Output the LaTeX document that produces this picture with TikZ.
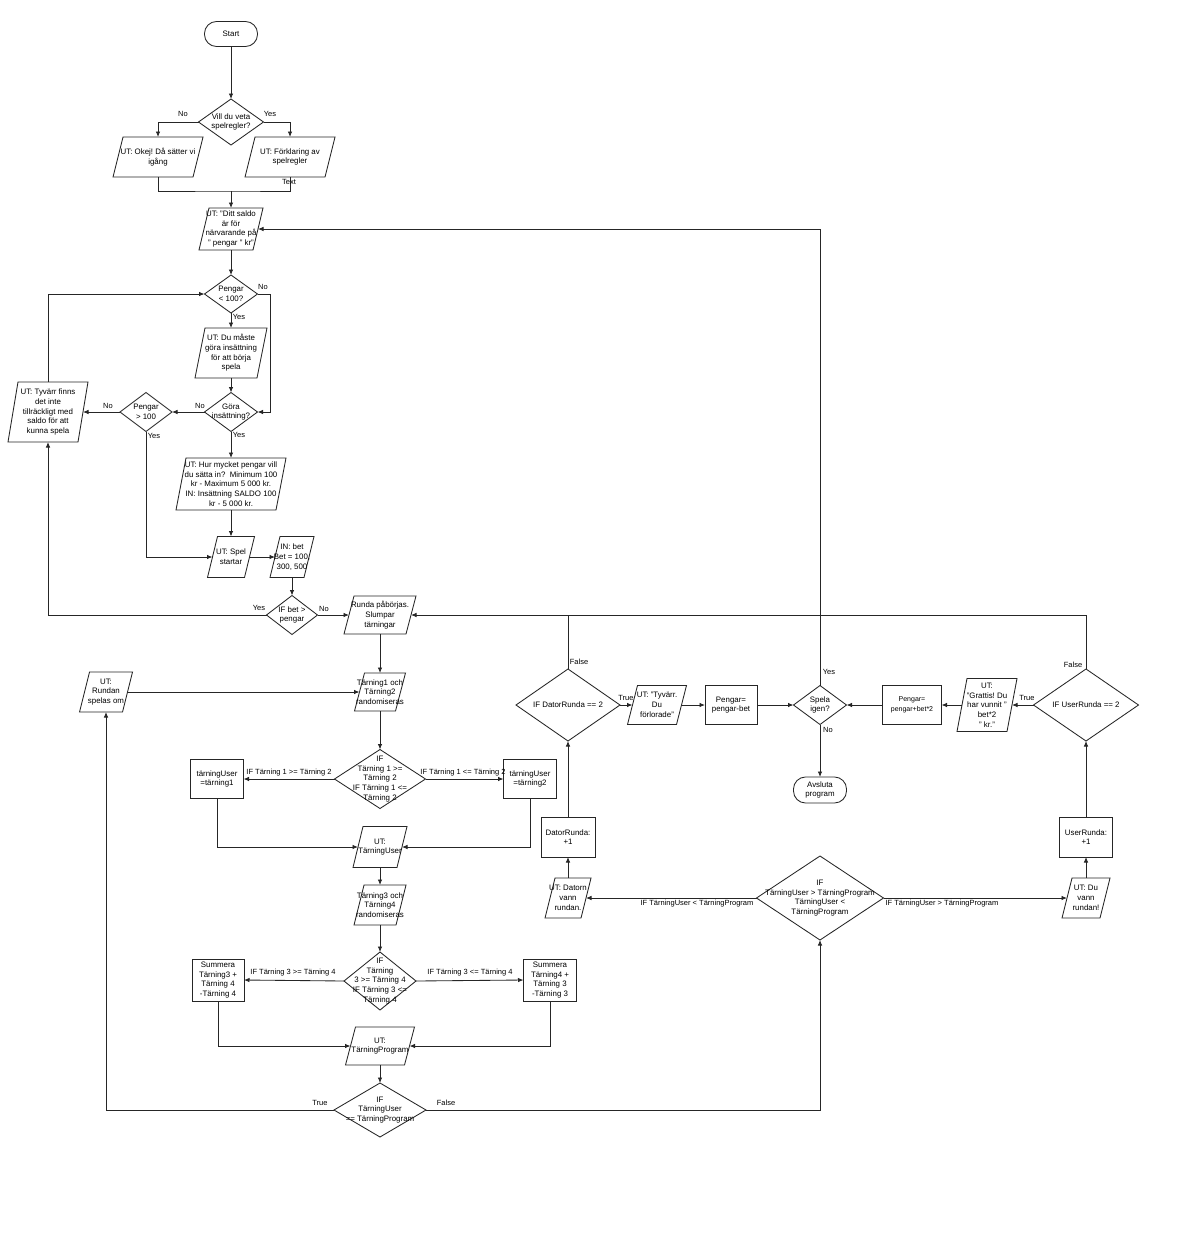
\documentclass[tikz,border=0pt]{standalone}
\usepackage{fontspec}
\setmainfont{Liberation Sans}
\usetikzlibrary{arrows.meta}
\frenchspacing
\newcommand{\fs}{\fontsize{7.9}{9.7}\selectfont}
\newcommand{\fsl}{\fontsize{7.5}{9}\selectfont}
\newcommand{\fss}{\fontsize{7}{8.8}\selectfont}
\tikzset{
 ln/.style={draw=black!85, line width=0.85pt},
 arr/.style={ln, -{Latex[length=5.5pt,width=4.5pt]}},
 anc/.style={shape=rectangle, inner sep=0pt, outer sep=0pt, draw=none},
 txt/.style={font=\fs, align=center, inner sep=0pt},
 lbl/.style={font=\fsl, inner sep=0pt},
}
\newcommand{\mkpara}[6]{%
 \node[anc, minimum width=#4-10, minimum height=#5] (#1) at (#2,#3) {};
 \draw[ln] ([xshift=-5pt]#1.south west) -- ([xshift=5pt]#1.north west) -- ([xshift=5pt]#1.north east) -- ([xshift=-5pt]#1.south east) -- cycle;
 \node[txt] (#1t) at (#1) {#6};}
\newcommand{\mkdia}[6]{%
 \node[anc, minimum width=#4, minimum height=#5] (#1) at (#2,#3) {};
 \draw[ln] (#1.north) -- (#1.east) -- (#1.south) -- (#1.west) -- cycle;
 \node[txt] (#1t) at (#1) {#6};}
\newcommand{\mkbox}[6]{%
 \node[anc, ln, minimum width=#4, minimum height=#5] (#1) at (#2,#3) {};
 \node[txt] (#1t) at (#1) {#6};}
\newcommand{\mkterm}[6]{%
 \node[anc, ln, rounded corners=12pt, minimum width=#4, minimum height=#5] (#1) at (#2,#3) {};
 \node[txt] (#1t) at (#1) {#6};}
\begin{document}
\begin{tikzpicture}[x=1pt,y=-1pt]
\fill[white] (0,0) rectangle (1200,1254);
\useasboundingbox (0,0) rectangle (1200,1254);

% ---- nodes ----
\mkterm{start}{231}{34}{53}{25}{Start}
\mkdia{q1}{231}{122}{65}{46}{Vill du veta\\spelregler?}
\mkpara{okej}{158}{157}{90}{40}{UT: Okej! Då sätter vi\\igång}
\mkpara{fork}{290}{157}{90}{40}{UT: Förklaring av\\spelregler}
\mkpara{saldo}{231}{229}{64}{42}{UT: "Ditt saldo\\är för\\närvarande på\\" pengar " kr"}
\mkdia{q2}{231}{294}{53}{38}{Pengar\\< 100?}
\mkpara{maste}{231}{353}{72}{50}{UT:  Du måste\\göra insättning\\för att börja\\spela}
\mkdia{q3}{231}{412}{53}{39}{Göra\\insättning?}
\mkdia{q4}{146}{412}{52}{39}{Pengar\\> 100}
\mkpara{tyvarr}{48}{412}{80}{60}{UT: Tyvärr finns\\det inte\\tillräckligt med\\saldo för att\\kunna spela}
\mkpara{hur}{231}{484}{110}{52}{UT: Hur mycket pengar vill\\du sätta in?\ \ Minimum 100\\kr - Maximum 5 000 kr.\\IN: Insättning SALDO 100\\kr - 5 000 kr.}
\mkpara{spel}{231}{557}{47}{41}{UT: Spel\\startar}
\mkpara{bet}{292}{557}{44}{41}{IN: bet\\Bet = 100,\\300, 500}
\mkdia{q5}{292}{615}{51}{39}{IF bet >\\pengar}
\mkpara{runda}{380}{615}{72}{38}{Runda påbörjas.\\Slumpar\\tärningar}
\mkpara{t12}{380}{692}{51}{38}{Tärning1 och\\Tärning2\\randomiseras}
\mkpara{rundan}{106}{692}{53}{40}{UT:\\Rundan\\spelas om}
\mkdia{q6}{380}{779}{91}{59}{IF\\Tärning 1 >=\\Tärning 2\\IF Tärning 1 <=\\Tärning 2}
\mkbox{tu1}{217}{779}{53}{39}{tärningUser\\=tärning1}
\mkbox{tu2}{530}{779}{53}{39}{tärningUser\\=tärning2}
\mkpara{utu}{380}{847}{54}{41}{UT:\\TärningUser}
\mkpara{t34}{380}{905}{52}{40}{Tärning3 och\\Tärning4\\randomiseras}
\mkdia{q7}{380}{981}{72}{58}{IF\\Tärning\\3 >= Tärning 4\\IF Tärning 3 <=\\Tärning 4}
\mkbox{s1}{218}{980}{52}{42}{Summera\\Tärning3 +\\Tärning 4\\-Tärning 4}
\mkbox{s2}{550}{980}{53}{42}{Summera\\Tärning4 +\\Tärning 3\\-Tärning 3}
\mkpara{utp}{380}{1046}{69}{38}{UT:\\TärningProgram}
\mkdia{q8}{380}{1110}{92}{54}{IF\\TärningUser\\== TärningProgram}
\mkdia{q9}{820}{898}{127}{84}{IF\\TärningUser > TärningProgram\\TärningUser <\\TärningProgram}
\mkpara{datorvann}{568}{898}{46}{40}{UT: Datorn\\vann\\rundan.}
\mkpara{duvann}{1086}{898}{48}{40}{UT: Du\\vann\\rundan!}
\mkbox{dr}{568}{837}{54}{40}{DatorRunda:\\+1}
\mkbox{ur}{1086}{837}{53}{40}{UserRunda:\\+1}
\mkdia{q10}{568}{705}{104}{72}{IF DatorRunda == 2}
\mkpara{forl}{657}{705}{59}{39}{UT: "Tyvärr.\\Du\\förlorade"}
\mkbox{pb}{731}{705}{52}{39}{Pengar=\\pengar-bet}
\mkdia{spela}{820}{705}{53}{39}{Spela\\igen?}
\mkterm{avsluta}{820}{790}{53}{26}{Avsluta\\program}
\mkbox{pbw}{912}{705}{59}{39}{\fss Pengar=\\\fss pengar+bet*2}
\mkpara{grattis}{987}{705}{60}{53}{UT:\\"Grattis! Du\\har vunnit "\\bet*2\\" kr."}
\mkdia{q11}{1086}{705}{105}{72}{IF UserRunda == 2}

% ---- connectors ----
\coordinate (j1) at (231,191);
\draw[arr] (start.south) -- (q1.north);
\draw[arr] (q1.west) -| (okej.north);
\draw[arr] (q1.east) -| (fork.north);
\draw[ln] (okej.south) |- (j1) -| (fork.south);
\draw[arr] (j1) -- (saldo.north);
\draw[arr] (saldo.south) -- (q2.north);
\draw[arr] (q2.east) -- ++(13,0) |- (q3.east);
\draw[arr] (q2.south) -- (maste.north);
\draw[arr] (maste.south) -- (q3.north);
\draw[arr] (q3.west) -- (q4.east);
\draw[arr] (q4.west) -- (tyvarr.east);
\draw[arr] (tyvarr.north) |- (q2.west);
\draw[arr] (q4.south) |- (spel.west);
\draw[arr] (q3.south) -- (hur.north);
\draw[arr] (hur.south) -- (spel.north);
\draw[arr] (spel.east) -- (bet.west);
\draw[arr] (bet.south) -- (q5.north);
\draw[arr] (q5.west) -| (tyvarr.south);
\draw[arr] (q5.east) -- (runda.west);
\draw[arr] (runda.south) -- (t12.north);
\draw[arr] (rundan.east) -- (t12.west);
\draw[arr] (t12.south) -- (q6.north);
\draw[arr] (q6.west) -- (tu1.east);
\draw[arr] (q6.east) -- (tu2.west);
\draw[arr] (tu1.south) |- (utu.west);
\draw[arr] (tu2.south) |- (utu.east);
\draw[arr] (utu.south) -- (t34.north);
\draw[arr] (t34.south) -- (q7.north);
\draw[arr] (q7.west) -- (s1.east);
\draw[arr] (q7.east) -- (s2.west);
\draw[arr] (s1.south) |- (utp.west);
\draw[arr] (s2.south) |- (utp.east);
\draw[arr] (utp.south) -- (q8.north);
\draw[arr] (q8.west) -| (rundan.south);
\draw[arr] (q8.east) -| (q9.south);
\draw[arr] (q9.west) -- (datorvann.east);
\draw[arr] (q9.east) -- (duvann.west);
\draw[arr] (datorvann.north) -- (dr.south);
\draw[arr] (dr.north) -- (q10.south);
\draw[arr] (q11.north) |- (runda.east);
\coordinate (j2) at (q10.north |- runda.east);
\draw[ln] (q10.north) -- (j2);
\draw[arr] (q10.east) -- (forl.west);
\draw[arr] (forl.east) -- (pb.west);
\draw[arr] (pb.east) -- (spela.west);
\draw[arr] (spela.north) |- (saldo.east);
\draw[arr] (spela.south) -- (avsluta.north);
\draw[arr] (pbw.west) -- (spela.east);
\draw[arr] (grattis.west) -- (pbw.east);
\draw[arr] (q11.west) -- (grattis.east);
\draw[arr] (duvann.north) -- (ur.south);
\draw[arr] (ur.north) -- (q11.south);

% ---- labels ----
\node[lbl] (la) at (183,114) {No};
\node[lbl] (lb) at (270,114) {Yes};
\node[lbl] (lc) at (289,182) {Text};
\node[lbl] (ld) at (263,287) {No};
\node[lbl] (le) at (239,317) {Yes};
\node[lbl] (lf) at (200,406) {No};
\node[lbl] (lg) at (108,406) {No};
\node[lbl] (lh) at (154,436) {Yes};
\node[lbl] (li) at (239,435) {Yes};
\node[lbl] (lj) at (259,608) {Yes};
\node[lbl] (lk) at (324,609) {No};
\node[lbl] (ll) at (289,773) {IF Tärning 1 >= Tärning 2};
\node[lbl] (lm) at (463,773) {IF Tärning 1 <= Tärning 2};
\node[lbl] (ln2) at (293,973) {IF Tärning 3 >= Tärning 4};
\node[lbl] (lo) at (470,973) {IF Tärning 3 <= Tärning 4};
\node[lbl] (lp) at (320,1103) {True};
\node[lbl] (lq) at (446,1103) {False};
\node[lbl] (lr) at (697,904) {IF TärningUser < TärningProgram};
\node[lbl] (ls) at (942,904) {IF TärningUser > TärningProgram};
\node[lbl] (lt) at (579,662) {False};
\node[lbl] (lu) at (626,698) {True};
\node[lbl] (lv) at (829,672) {Yes};
\node[lbl] (lw) at (828,730) {No};
\node[lbl] (lx) at (1027,698) {True};
\node[lbl] (ly) at (1073,665) {False};
\end{tikzpicture}
\end{document}
